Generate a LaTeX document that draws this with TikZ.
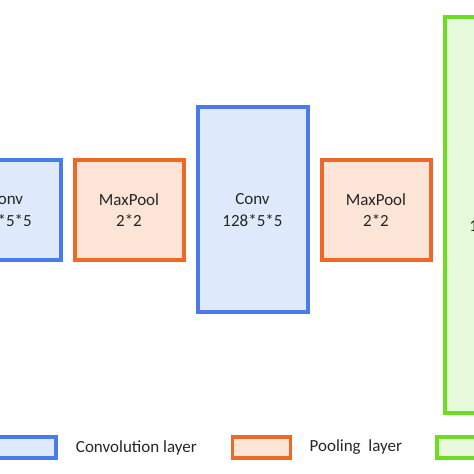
\documentclass[tikz,border=0pt]{standalone}
\usepackage{fontspec}
\setmainfont{Carlito}
\usetikzlibrary{positioning}

\definecolor{convline}{RGB}{74,123,232}
\definecolor{convfill}{RGB}{222,234,251}
\definecolor{poolline}{RGB}{238,104,40}
\definecolor{poolfill}{RGB}{252,228,214}
\definecolor{fcline}{RGB}{108,222,34}
\definecolor{fcfill}{RGB}{230,249,218}

\begin{document}
\begin{tikzpicture}[
    x=1pt, y=1pt,
    node distance=10pt,
    every node/.style={font=\fontsize{17}{21.5}\selectfont, text=black!85},
    layer/.style={draw, line width=4pt, align=center, minimum width=109pt, minimum height=100pt},
    conv/.style={layer, draw=convline, fill=convfill},
    pool/.style={layer, draw=poolline, fill=poolfill},
    fc/.style={layer, draw=fcline, fill=fcfill},
    key/.style={draw, line width=3.5pt, minimum width=58pt, minimum height=21pt},
    keytext/.style={inner sep=0pt, anchor=west}]
\useasboundingbox (0,0) rectangle (474,474);
\clip (0,0) rectangle (474,474);
% layers
\node[conv] (conva) at (6,264) {Conv\\64*5*5};
\node[pool, right=of conva] (poola) {MaxPool\\2*2};
\node[conv, right=of poola, minimum width=110pt, minimum height=205pt] (convb) {Conv\\128*5*5};
\node[pool, right=of convb] (poolb) {MaxPool\\2*2};
\node[fc, right=of poolb, yshift=-5pt, minimum width=84pt, minimum height=396pt] (fca) {FC\\1024};
% legend
\node[key, draw=convline, fill=convfill] (keyconv) at (27,26.5) {};
\node[keytext, right=18pt of keyconv] (txtconv) {Convolution layer};
\node[key, draw=poolline, fill=poolfill, right=34pt of txtconv] (keypool) {};
\node[keytext, right=17pt of keypool] (txtpool) {Pooling\ \ layer};
\node[key, draw=fcline, fill=fcfill, right=33pt of txtpool] (keyfc) {};
\end{tikzpicture}
\end{document}
